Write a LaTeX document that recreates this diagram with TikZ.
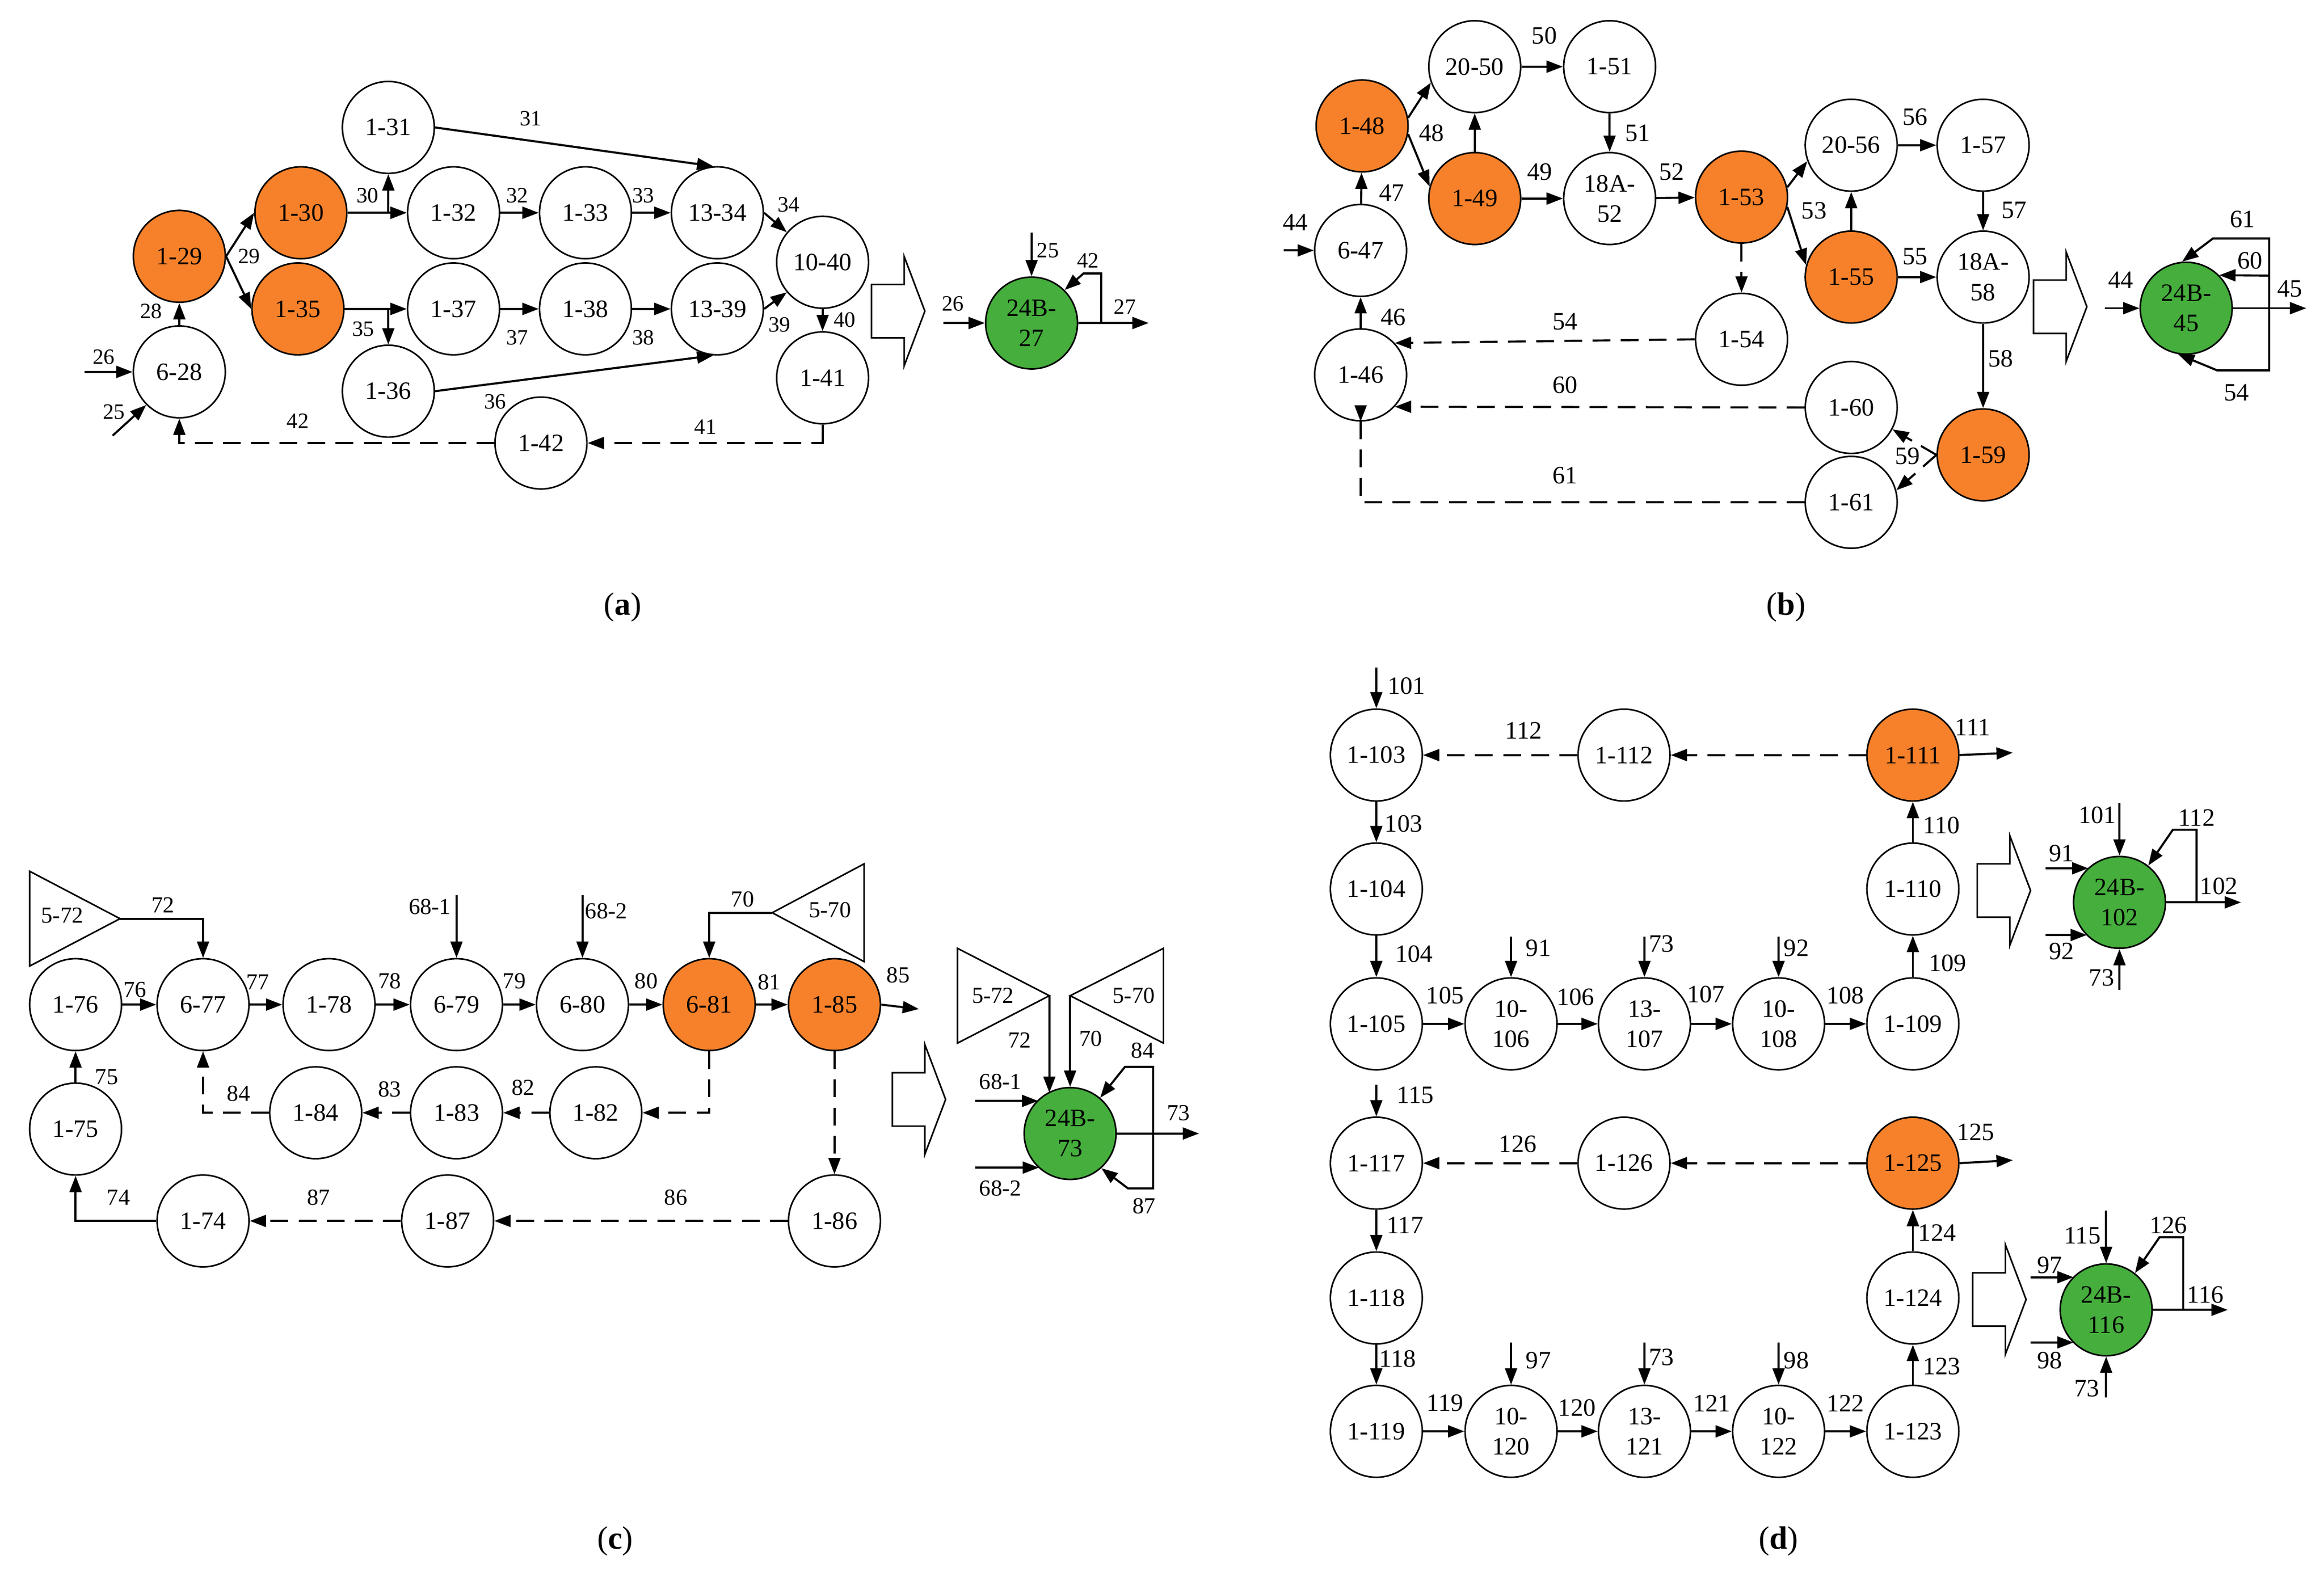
\documentclass[tikz,border=0pt]{standalone}
\usepackage{fontspec}
\setmainfont{Liberation Serif}
\usetikzlibrary{arrows.meta}
\definecolor{orc}{HTML}{F7812A}
\definecolor{grc}{HTML}{45AE3C}
\tikzset{
 n/.style={circle,draw,line width=3pt,minimum size=6.2cm,inner sep=0pt,align=center,font=\fontsize{48}{58}\selectfont},
 o/.style={n,fill=orc}, g/.style={n,fill=grc},
 e/.style={line width=4pt,-{Triangle[length=1.1cm,width=0.8cm]}},
 p/.style={line width=4pt},
 d/.style={e,dash pattern=on 1.2cm off 0.7cm},
 dp/.style={p,dash pattern=on 1.2cm off 0.7cm},
 la/.style={font=\fontsize{42}{42}\selectfont,inner sep=0pt},
 lb/.style={font=\fontsize{48}{48}\selectfont,inner sep=0pt},
 lc/.style={font=\fontsize{44}{44}\selectfont,inner sep=0pt},
 ld/.style={font=\fontsize{48}{48}\selectfont,inner sep=0pt},
 tri/.style={line width=3pt},
 hol/.style={line width=3pt},
 captxt/.style={font=\fontsize{62}{62}\selectfont}
}
\newcommand{\hollowarrow}[3]{\draw[hol] (#1,#2-18) coordinate (#3a) -- ++(22,0) -- ++(0,-19) -- ++(14,37) -- ++(-14,37) -- ++(0,-19) -- ++(-22,0) -- cycle;}
\begin{document}
\begin{tikzpicture}[x=1mm,y=-1mm]
\useasboundingbox (0,0) rectangle (1568,1067);
%%%%%%%%%%%%%%%% (a)
\node[o] (a29) at (121,173) {1-29};
\node[o] (a30) at (203,143.6) {1-30};
\node[o] (a35) at (201,208.5) {1-35};
\node[n] (a31) at (262,86) {1-31};
\node[n] (a32) at (306,143.6) {1-32};
\node[n] (a33) at (395,143.6) {1-33};
\node[n] (a34) at (484,143.6) {13-34};
\node[n] (a37) at (306,208.5) {1-37};
\node[n] (a38) at (395,208.5) {1-38};
\node[n] (a39) at (484,208.5) {13-39};
\node[n] (a36) at (262,264) {1-36};
\node[n] (a40) at (555,177) {10-40};
\node[n] (a41) at (555,255) {1-41};
\node[n] (a28) at (121,251) {6-28};
\node[n] (a42) at (365,299) {1-42};
\node[g] (ag) at (696,218) {24B-\\27};
\draw[e] (a28) -- (a29);
\draw[e] (a29.east) -- (a30.west);
\draw[e] (a29.east) -- (a35.west);
\draw[e] (a30) -- (a32);
\draw[e] (a31|-a30) -- (a31.south);
\draw[e] (a35) -- (a37);
\draw[e] (a36|-a35) -- (a36.north);
\draw[e] (a31.east) -- (a34.95);
\draw[e] (a32) -- (a33);
\draw[e] (a33) -- (a34);
\draw[e] (a37) -- (a38);
\draw[e] (a38) -- (a39);
\draw[e] (a36.east) -- (a39.-95);
\draw[e] (a34.east) -- (a40.140);
\draw[e] (a39.east) -- (a40.220);
\draw[e] (a40) -- (a41);
\draw[p] (a41.south) -- ++(0,8) coordinate (a41b);
\draw[d] (a41b) |- (a42.east);
\draw[dp] (a42.west) -| ([yshift=-8mm]a28.south) coordinate (a28b);
\draw[e] (a28b) -- (a28.south);
\coordinate (a26i) at (57,251);
\coordinate (a25i) at (76,294);
\draw[e] (a26i) -- (a28.west);
\draw[e] (a25i) -- (a28.225);
\node[la] at (102,210) {28};
\node[la] at (168,173) {29};
\node[la] at (248,132) {30};
\node[la] at (358,80) {31};
\node[la] at (349,132) {32};
\node[la] at (434,132) {33};
\node[la] at (532,138) {34};
\node[la] at (245,222) {35};
\node[la] at (349,228) {37};
\node[la] at (434,228) {38};
\node[la] at (526,219) {39};
\node[la] at (570,216) {40};
\node[la] at (70,241) {26};
\node[la] at (77,278) {25};
\node[la] at (334,271) {36};
\node[la] at (201,284) {42};
\node[la] at (476,288) {41};
\hollowarrow{588}{210}{ha}
\coordinate (ag26) at (636.5,218);
\coordinate (ag25) at (696,157);
\coordinate (agout) at (775,218);
\coordinate (agj) at (743,218);
\coordinate (agk) at (743,184.6);
\coordinate (agl) at (731,184.6);
\draw[e] (ag26) -- (ag.west);
\draw[e] (ag25) -- (ag.north);
\draw[e] (ag.east) -- (agout);
\draw[e] (agj) -- (agk) -- (agl) -- (ag.45);
\node[la] at (643,205) {26};
\node[la] at (707,169) {25};
\node[la] at (734,176) {42};
\node[la] at (759,207) {27};
\node[captxt] at (420,410) {(\textbf{a})};
%%%%%%%%%%%%%%%% (b)
\node[n] (b46) at (918,253) {1-46};
\node[n] (b47) at (918,169) {6-47};
\node[o] (b48) at (919,85) {1-48};
\node[n] (b50) at (995,45) {20-50};
\node[n] (b51) at (1086,45) {1-51};
\node[o] (b49) at (995,134) {1-49};
\node[n] (b52) at (1086,134) {18A-\\52};
\node[o] (b53) at (1175,133) {1-53};
\node[n] (b56) at (1249,98) {20-56};
\node[n] (b57) at (1338,98) {1-57};
\node[o] (b55) at (1249,187) {1-55};
\node[n] (b58) at (1338,187) {18A-\\58};
\node[n] (b54) at (1175,229) {1-54};
\node[n] (b60) at (1249,275) {1-60};
\node[o] (b59) at (1338,307) {1-59};
\node[n] (b61) at (1249,339) {1-61};
\node[g] (bg) at (1475,208) {24B-\\45};
\coordinate (b44i) at (866,169);
\draw[e] (b44i) -- (b47.west);
\draw[e] (b46) -- (b47);
\draw[e] (b47) -- (b48);
\draw[e] (b48.10) -- (b50.200);
\draw[e] (b48.-10) -- (b49.165);
\draw[e] (b49) -- (b50);
\draw[e] (b49) -- (b52);
\draw[e] (b50) -- (b51);
\draw[e] (b51) -- (b52);
\draw[e] (b52) -- (b53);
\draw[e] (b53.12) -- (b56.200);
\draw[e] (b53.-12) -- (b55.165);
\draw[e] (b55) -- (b56);
\draw[e] (b55) -- (b58);
\draw[e] (b56) -- (b57);
\draw[e] (b57) -- (b58);
\draw[e] (b58) -- (b59);
\draw[d] (b53) -- (b54);
\draw[d] (b54.west) -- (b46.43);
\draw[d] (b60.west) -- (b46.-43);
\draw[d] (b59.west) -- (b60.-28);
\draw[d] (b59.west) -- (b61.15);
\draw[dp] (b61.west) -| ([yshift=8mm]b46.south) coordinate (b46b);
\draw[e] (b46b) -- (b46.south);
\node[lb] at (874,150) {44};
\node[lb] at (939,130) {47};
\node[lb] at (966,90) {48};
\node[lb] at (1042,24) {50};
\node[lb] at (1105,90) {51};
\node[lb] at (1039,116) {49};
\node[lb] at (1128,116) {52};
\node[lb] at (1224,142) {53};
\node[lb] at (1292,79) {56};
\node[lb] at (1359,142) {57};
\node[lb] at (1292,173) {55};
\node[lb] at (1350,242) {58};
\node[lb] at (940,214) {46};
\node[lb] at (1056,217) {54};
\node[lb] at (1056,260) {60};
\node[lb] at (1056,321) {61};
\node[lb] at (1287,308) {59};
\hollowarrow{1372}{207}{hb}
\coordinate (bg44) at (1420,208);
\coordinate (bgout) at (1556,208);
\coordinate (bgj) at (1531,208);
\coordinate (bgk) at (1531,161);
\coordinate (bgl) at (1493,161);
\coordinate (bgm) at (1531,186);
\coordinate (bgn) at (1531,250);
\coordinate (bgo) at (1496,250);
\draw[e] (bg44) -- (bg.west);
\draw[e] (bg.east) -- (bgout);
\draw[e] (bgj) -- (bgk) -- (bgl) -- (bg.95);
\draw[e] (bgm) -- (bg.45);
\draw[e] (bgj) -- (bgn) -- (bgo) -- (bg.-100);
\node[lb] at (1431,189) {44};
\node[lb] at (1513,148) {61};
\node[lb] at (1518,176) {60};
\node[lb] at (1545,195) {45};
\node[lb] at (1509,265) {54};
\node[captxt] at (1205,410) {(\textbf{b})};
%%%%%%%%%%%%%%%% (c)
\node[n] (c76) at (51,678) {1-76};
\node[n] (c77) at (137,678) {6-77};
\node[n] (c78) at (222,678) {1-78};
\node[n] (c79) at (308,678) {6-79};
\node[n] (c80) at (393,678) {6-80};
\node[o] (c81) at (478.5,678) {6-81};
\node[o] (c85) at (563,678) {1-85};
\node[n] (c75) at (51,762) {1-75};
\node[n] (c84) at (213,751) {1-84};
\node[n] (c83) at (308,751) {1-83};
\node[n] (c82) at (402,751) {1-82};
\node[n] (c74) at (137,824) {1-74};
\node[n] (c87) at (302,824) {1-87};
\node[n] (c86) at (563,824) {1-86};
\coordinate (t72t) at (81,620);
\coordinate (t70t) at (521,616);
\draw[tri] (20,588) -- (t72t) -- (20,652) -- cycle;
\draw[tri] (583,583) -- (t70t) -- (583,649) -- cycle;
\node[lc] (t72) at (42,618) {5-72};
\node[lc] (t70) at (560,614) {5-70};
\draw[e] (t72t) -| (c77.north);
\draw[e] (t70t) -| (c81.north);
\coordinate (c681) at (308,604);
\coordinate (c682) at (393,604);
\draw[e] (c681) -- (c79.north);
\draw[e] (c682) -- (c80.north);
\draw[e] (c76) -- (c77);
\draw[e] (c77) -- (c78);
\draw[e] (c78) -- (c79);
\draw[e] (c79) -- (c80);
\draw[e] (c80) -- (c81);
\draw[e] (c81) -- (c85);
\coordinate (c85o) at (620,681);
\draw[e] (c85.east) -- (c85o);
\draw[d] (c81.south) |- (c82.east);
\draw[d] (c82) -- (c83);
\draw[d] (c83) -- (c84);
\draw[dp] (c84.west) -| ([yshift=-8mm]c77.south) coordinate (c77b);
\draw[e] (c77b) -- (c77.south);
\draw[d] (c85) -- (c86);
\draw[d] (c86) -- (c87);
\draw[d] (c87) -- (c74);
\draw[e] (c74.west) -| (c75.south);
\draw[e] (c75) -- (c76);
\node[lc] at (110,611) {72};
\node[lc] at (501,607) {70};
\node[lc] at (290,612) {68-1};
\node[lc] at (409,615) {68-2};
\node[lc] at (91,668) {76};
\node[lc] at (174,663) {77};
\node[lc] at (263,662) {78};
\node[lc] at (347,662) {79};
\node[lc] at (436,662) {80};
\node[lc] at (519,663) {81};
\node[lc] at (606,658) {85};
\node[lc] at (72,727) {75};
\node[lc] at (161,738) {84};
\node[lc] at (263,735) {83};
\node[lc] at (353,734) {82};
\node[lc] at (80,808) {74};
\node[lc] at (215,808) {87};
\node[lc] at (456,808) {86};
\hollowarrow{602}{742}{hc}
\node[g] (cg) at (722,765) {24B-\\73};
\coordinate (s72t) at (708,672);
\coordinate (s70t) at (722,672);
\draw[tri] (646,640) -- (s72t) -- (646,704) -- cycle;
\draw[tri] (785,640) -- (s70t) -- (785,704) -- cycle;
\node[lc] (s72) at (670,672) {5-72};
\node[lc] (s70) at (765,672) {5-70};
\coordinate (s72e) at (708,737.5);
\draw[e] (s72t) -- (s72e);
\draw[e] (s70t) -- (cg.north);
\coordinate (cg1) at (658,743);
\coordinate (cg1e) at (700.5,743);
\coordinate (cg2) at (658,788);
\coordinate (cg2e) at (701,788);
\draw[e] (cg1) -- (cg1e);
\draw[e] (cg2) -- (cg2e);
\coordinate (cgo) at (809,765);
\coordinate (cgj) at (778,765);
\coordinate (cgk) at (778,720);
\coordinate (cgl) at (759,720);
\coordinate (cgm) at (778,802);
\coordinate (cgn) at (761,802);
\draw[e] (cg.east) -- (cgo);
\draw[e] (cgj) -- (cgk) -- (cgl) -- (cg.50);
\draw[e] (cgj) -- (cgm) -- (cgn) -- (cg.-48);
\node[lc] at (688,702) {72};
\node[lc] at (736,701) {70};
\node[lc] at (771,709) {84};
\node[lc] at (675,730) {68-1};
\node[lc] at (675,802) {68-2};
\node[lc] at (795,751) {73};
\node[lc] at (772,814) {87};
\node[captxt] at (415,1040) {(\textbf{c})};
%%%%%%%%%%%%%%%% (d)
\node[n] (d103) at (928.6,509.6) {1-103};
\node[n] (d112) at (1095.7,509.6) {1-112};
\node[o] (d111) at (1290.6,509.6) {1-111};
\node[n] (d104) at (928.6,600) {1-104};
\node[n] (d110) at (1290.6,600) {1-110};
\node[n] (d105) at (928.6,691) {1-105};
\node[n] (d106) at (1019.5,691) {10-\\106};
\node[n] (d107) at (1109.5,691) {13-\\107};
\node[n] (d108) at (1200,691) {10-\\108};
\node[n] (d109) at (1290.6,691) {1-109};
\node[n] (d117) at (928.6,785) {1-117};
\node[n] (d126) at (1095.7,785) {1-126};
\node[o] (d125) at (1290.6,785) {1-125};
\node[n] (d118) at (928.6,876) {1-118};
\node[n] (d124) at (1290.6,876) {1-124};
\node[n] (d119) at (928.6,966) {1-119};
\node[n] (d120) at (1019.5,966) {10-\\120};
\node[n] (d121) at (1109.5,966) {13-\\121};
\node[n] (d122) at (1200,966) {10-\\122};
\node[n] (d123) at (1290.6,966) {1-123};
\coordinate (d101i) at (928.6,450.6);
\coordinate (d91i) at (1019.5,632);
\coordinate (d73i) at (1109.5,632);
\coordinate (d92i) at (1200,632);
\coordinate (d111o) at (1358,508);
\draw[e] (d101i) -- (d103.north);
\draw[e] (d91i) -- (d106.north);
\draw[e] (d73i) -- (d107.north);
\draw[e] (d92i) -- (d108.north);
\draw[e] (d103) -- (d104);
\draw[e] (d104) -- (d105);
\draw[e] (d105) -- (d106);
\draw[e] (d106) -- (d107);
\draw[e] (d107) -- (d108);
\draw[e] (d108) -- (d109);
\draw[e] (d109) -- (d110);
\draw[e] (d110) -- (d111);
\draw[e] (d111.east) -- (d111o);
\draw[d] (d111) -- (d112);
\draw[d] (d112) -- (d103);
\coordinate (d115i) at (928.6,732);
\coordinate (d97i) at (1019.5,906);
\coordinate (d73j) at (1109.5,906);
\coordinate (d98i) at (1200,906);
\coordinate (d125o) at (1358,783);
\draw[e] (d115i) -- (d117.north);
\draw[e] (d97i) -- (d120.north);
\draw[e] (d73j) -- (d121.north);
\draw[e] (d98i) -- (d122.north);
\draw[e] (d117) -- (d118);
\draw[e] (d118) -- (d119);
\draw[e] (d119) -- (d120);
\draw[e] (d120) -- (d121);
\draw[e] (d121) -- (d122);
\draw[e] (d122) -- (d123);
\draw[e] (d123) -- (d124);
\draw[e] (d124) -- (d125);
\draw[e] (d125.east) -- (d125o);
\draw[d] (d125) -- (d126);
\draw[d] (d126) -- (d117);
\node[ld] at (949,463) {101};
\node[ld] at (1028,493) {112};
\node[ld] at (1331,491) {111};
\node[ld] at (947,556) {103};
\node[ld] at (1310,557) {110};
\node[ld] at (954,644) {104};
\node[ld] at (1038,640) {91};
\node[ld] at (1121,637) {73};
\node[ld] at (1212,640) {92};
\node[ld] at (1314,650) {109};
\node[ld] at (975,672) {105};
\node[ld] at (1063,673) {106};
\node[ld] at (1151,671) {107};
\node[ld] at (1245,672) {108};
\node[ld] at (955,739) {115};
\node[ld] at (1333,764) {125};
\node[ld] at (1024,772) {126};
\node[ld] at (948,827) {117};
\node[ld] at (1307,832) {124};
\node[ld] at (943,917) {118};
\node[ld] at (1038,918) {97};
\node[ld] at (1121,916) {73};
\node[ld] at (1212,918) {98};
\node[ld] at (1310,922) {123};
\node[ld] at (975,947) {119};
\node[ld] at (1064,950) {120};
\node[ld] at (1155,947) {121};
\node[ld] at (1245,947) {122};
\hollowarrow{1334}{601}{hd}
\hollowarrow{1331}{877}{he}
\node[g] (dg1) at (1430,609) {24B-\\102};
\coordinate (g1a) at (1430,542);
\coordinate (g1b) at (1380,586);
\coordinate (g1be) at (1409,586);
\coordinate (g1c) at (1380,631);
\coordinate (g1ce) at (1408,631);
\coordinate (g1d) at (1430,668);
\coordinate (g1o) at (1512,609);
\coordinate (g1j) at (1482,609);
\coordinate (g1k) at (1482,560);
\coordinate (g1l) at (1466,560);
\draw[e] (g1a) -- (dg1.north);
\draw[e] (g1b) -- (g1be);
\draw[e] (g1c) -- (g1ce);
\draw[e] (g1d) -- (dg1.south);
\draw[e] (dg1.east) -- (g1o);
\draw[e] (g1j) -- (g1k) -- (g1l) -- (dg1.52);
\node[ld] at (1415,550) {101};
\node[ld] at (1482,552) {112};
\node[ld] at (1391,576) {91};
\node[ld] at (1497,598) {102};
\node[ld] at (1391,642) {92};
\node[ld] at (1418,660) {73};
\node[g] (dg2) at (1421,884) {24B-\\116};
\coordinate (g2a) at (1421,817);
\coordinate (g2b) at (1370,862);
\coordinate (g2be) at (1399,862);
\coordinate (g2c) at (1370,906);
\coordinate (g2ce) at (1399,906);
\coordinate (g2d) at (1421,943);
\coordinate (g2o) at (1503,884);
\coordinate (g2j) at (1473,884);
\coordinate (g2k) at (1473,835);
\coordinate (g2l) at (1457,835);
\draw[e] (g2a) -- (dg2.north);
\draw[e] (g2b) -- (g2be);
\draw[e] (g2c) -- (g2ce);
\draw[e] (g2d) -- (dg2.south);
\draw[e] (dg2.east) -- (g2o);
\draw[e] (g2j) -- (g2k) -- (g2l) -- (dg2.52);
\node[ld] at (1405,834) {115};
\node[ld] at (1463,827) {126};
\node[ld] at (1383,854) {97};
\node[ld] at (1383,918) {98};
\node[ld] at (1408,937) {73};
\node[ld] at (1488,874) {116};
\node[captxt] at (1200,1040) {(\textbf{d})};
\end{tikzpicture}
\end{document}
